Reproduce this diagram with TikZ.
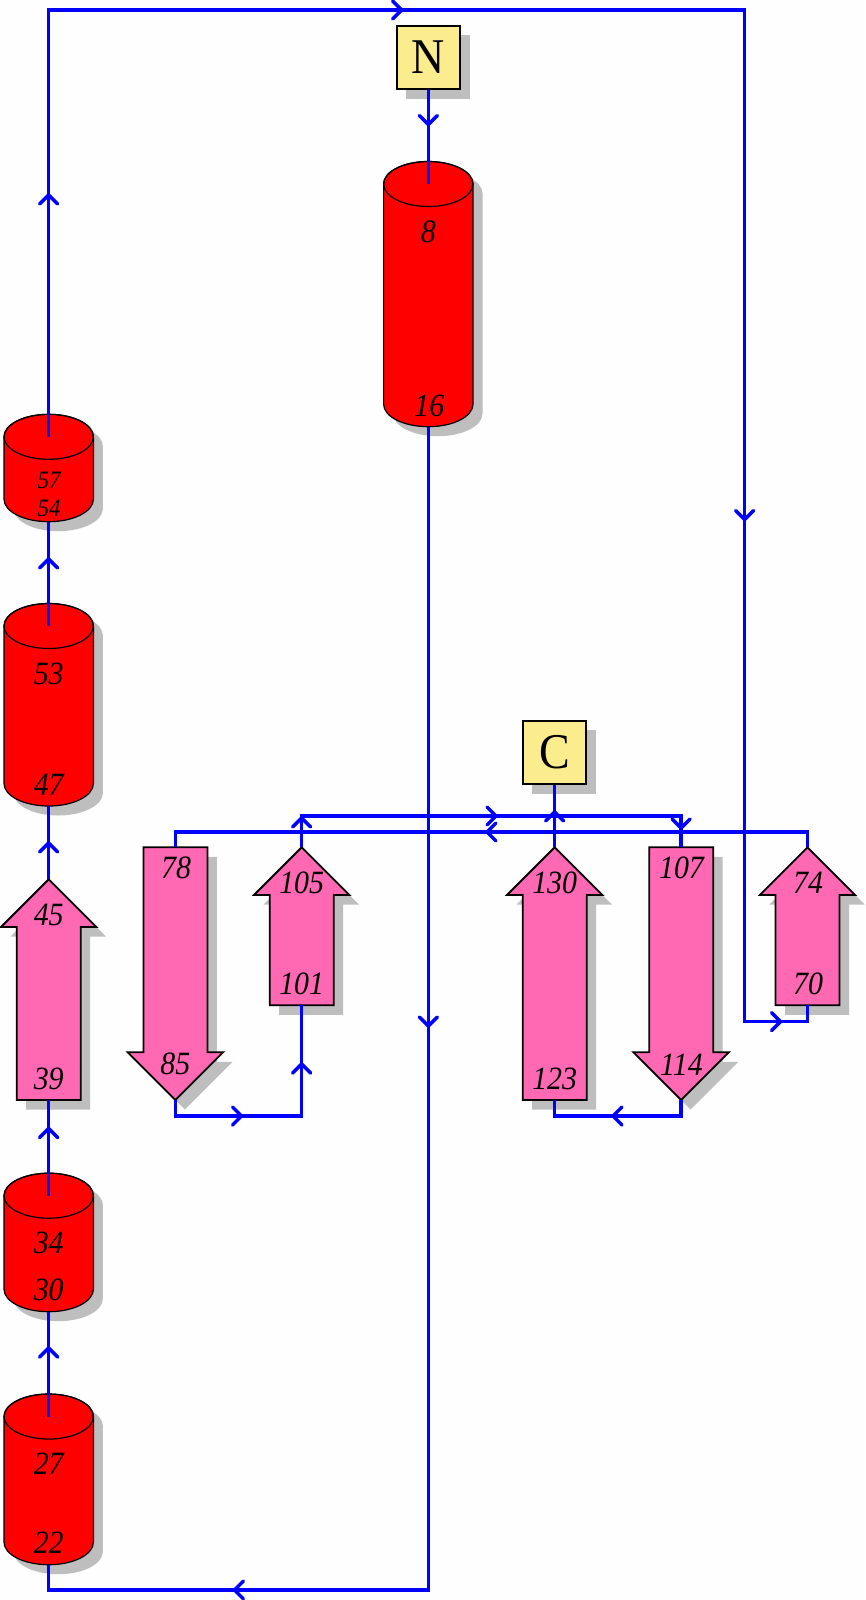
\documentclass[tikz,border=0pt]{standalone}
\usepackage{fontspec}
\setmainfont[FakeStretch=0.92]{Liberation Serif}
\definecolor{shad}{HTML}{BEBEBE}
\definecolor{bgc}{HTML}{FDFEFD}
\definecolor{pinkf}{HTML}{FF69B4}
\definecolor{boxf}{HTML}{FBEC8E}
\definecolor{wire}{HTML}{0000FF}
\tikzset{
  conn/.style={draw=wire,line width=3.5pt,line join=miter},
  tip/.style={draw=wire,line width=3.5pt,line join=miter,line cap=round},
  lab/.style={inner sep=0pt,font=\fontsize{32.5}{32.5}\selectfont\itshape},
  smalllab/.style={inner sep=0pt,font=\fontsize{25}{25}\selectfont\itshape},
  term/.style={draw=black,line width=1.8pt,fill=boxf,minimum width=63pt,minimum height=63pt,inner sep=0pt,font=\fontsize{50}{50}\selectfont},
  outl/.style={draw=black,line width=1.8pt,line join=miter},
  hel/.style={draw=black,line width=1.2pt},
}
% helix: name, x, top ellipse centre y, bottom ellipse centre y
\newcommand{\helixshape}[4]{%
  \fill[shad] ({#2-44.7+9.5},{#3+9.5}) -- ({#2-44.7+9.5},{#4+9.5}) arc[start angle=180,end angle=360,x radius=44.7,y radius=-22.5] -- ({#2+44.7+9.5},{#3+9.5}) arc[start angle=0,end angle=180,x radius=44.7,y radius=-22.5] -- cycle;
  \filldraw[hel,fill=red] ({#2-44.7},#3) -- ({#2-44.7},#4) arc[start angle=180,end angle=360,x radius=44.7,y radius=-22.5] -- ({#2+44.7},#3) arc[start angle=0,end angle=180,x radius=44.7,y radius=-22.5] -- cycle;
  \draw[hel] ({#2},#3) ellipse[x radius=44.7,y radius=22.5];
  \coordinate (#1top) at (#2,#3);
  \coordinate (#1bot) at (#2,{#4+22.5});
}
% up strand: name, x, tip y, bottom y
\newcommand{\upstrand}[4]{%
  \foreach \dd/\cc in {9.5/shad,0/pinkf}{%
    \fill[\cc] ({#2+\dd},{#3+\dd}) -- ({#2+47.7+\dd},{#3+47.7+\dd}) -- ({#2+32+\dd},{#3+47.7+\dd}) -- ({#2+32+\dd},{#4+\dd}) -- ({#2-32+\dd},{#4+\dd}) -- ({#2-32+\dd},{#3+47.7+\dd}) -- ({#2-47.7+\dd},{#3+47.7+\dd}) -- cycle;
  }
  \draw[outl] (#2,#3) -- ({#2+47.7},{#3+47.7}) -- ({#2+32},{#3+47.7}) -- ({#2+32},#4) -- ({#2-32},#4) -- ({#2-32},{#3+47.7}) -- ({#2-47.7},{#3+47.7}) -- cycle;
  \coordinate (#1tip) at (#2,#3);
  \coordinate (#1end) at (#2,#4);
}
% down strand: name, x, top y, tip y
\newcommand{\downstrand}[4]{%
  \foreach \dd/\cc in {9.5/shad,0/pinkf}{%
    \fill[\cc] ({#2+\dd},{#4+\dd}) -- ({#2+47.7+\dd},{#4-47.7+\dd}) -- ({#2+32+\dd},{#4-47.7+\dd}) -- ({#2+32+\dd},{#3+\dd}) -- ({#2-32+\dd},{#3+\dd}) -- ({#2-32+\dd},{#4-47.7+\dd}) -- ({#2-47.7+\dd},{#4-47.7+\dd}) -- cycle;
  }
  \draw[outl] (#2,#4) -- ({#2+47.7},{#4-47.7}) -- ({#2+32},{#4-47.7}) -- ({#2+32},#3) -- ({#2-32},#3) -- ({#2-32},{#4-47.7}) -- ({#2-47.7},{#4-47.7}) -- cycle;
  \coordinate (#1tip) at (#2,#4);
  \coordinate (#1end) at (#2,#3);
}
% open arrowheads with tip at the given point
\newcommand{\hup}[2]{\draw[tip] ({#1-9},{#2+9}) -- (#1,#2) -- ({#1+9},{#2+9});}
\newcommand{\hdown}[2]{\draw[tip] ({#1-9},{#2-9}) -- (#1,#2) -- ({#1+9},{#2-9});}
\newcommand{\hright}[2]{\draw[tip] ({#1-9},{#2-9}) -- (#1,#2) -- ({#1-9},{#2+9});}
\newcommand{\hleft}[2]{\draw[tip] ({#1+9},{#2-9}) -- (#1,#2) -- ({#1+9},{#2+9});}
\begin{document}
\begin{tikzpicture}[x=1pt,y=-1pt]
\useasboundingbox (0,0) rectangle (865,1600);
\fill[bgc] (0,0) rectangle (865,1600);
% terminus boxes
\fill[shad] (406.2,35.2) rectangle (469.5,98.8);
\fill[shad] (532.2,730.2) rectangle (596.2,793.8);
\node[term] (N) at (428.3,57.5) {N};
\node[term] (C) at (554.7,752.5) {C};
% helices
\helixshape{h8}{428.3}{184}{404.2}
\helixshape{h57}{48.7}{436.8}{499.2}
\helixshape{h53}{48.7}{626}{783.5}
\helixshape{h34}{48.7}{1195.7}{1289.2}
\helixshape{h27}{48.7}{1416.5}{1542.2}
% strands
\upstrand{s45}{48.7}{879.3}{1100}
\downstrand{s78}{175.4}{847.3}{1100}
\upstrand{s105}{301.7}{847.3}{1005.3}
\upstrand{s130}{554.7}{847.3}{1100}
\downstrand{s107}{681.2}{847.3}{1100}
\upstrand{s74}{807.5}{847.3}{1005.3}
% routing points
\coordinate (topL) at (48.7,10);
\coordinate (topR) at (744.6,10);
\coordinate (lowR) at (744.6,1021.7);
\coordinate (low74) at (807.5,1021.7);
\coordinate (bot16) at (428.3,1590);
\coordinate (bot22) at (48.7,1590);
\coordinate (r74) at (807.5,832);
\coordinate (r78) at (175.4,832);
\coordinate (u105) at (301.7,816);
\coordinate (u107) at (681.2,816);
\coordinate (b85) at (175.4,1116);
\coordinate (b101) at (301.7,1116);
\coordinate (b114) at (681.2,1116);
\coordinate (b123) at (554.7,1116);
% connectors
\draw[conn] (N) -- (h8top);
\draw[conn] (h8bot) -- (bot16) -- (bot22) -- (h27bot);
\draw[conn] (h27top) -- (h34bot);
\draw[conn] (h34top) -- (s45end);
\draw[conn] (s45tip) -- (h53bot);
\draw[conn] (h53top) -- (h57bot);
\draw[conn] (h57top) -- (topL) -- (topR) -- (lowR) -- (low74) -- (s74end);
\draw[conn] (s74tip) -- (r74) -- (r78) -- (s78end);
\draw[conn] (s78tip) -- (b85) -- (b101) -- (s105end);
\draw[conn] (s105tip) -- (u105) -- (u107) -- (s107end);
\draw[conn] (s107tip) -- (b114) -- (b123) -- (s130end);
\draw[conn] (s130tip) -- (C);
% arrowheads
\hdown{428.3}{124.5}
\hdown{428.3}{1026}
\hleft{234.5}{1590}
\hup{48.7}{1348}
\hup{48.7}{1128.5}
\hup{48.7}{843}
\hup{48.7}{559}
\hup{48.7}{195}
\hright{401.6}{10}
\hdown{744.6}{519.5}
\hright{780.5}{1021.7}
\hleft{487}{832}
\hright{241.5}{1116}
\hup{301.7}{1064}
\hup{301.7}{818}
\hright{496}{816}
\hdown{681.2}{828}
\hleft{613}{1116}
\hup{554.7}{812}
% labels
\node[lab] (l8) at (428.3,231.7) {8};
\node[lab] (l16) at (429.3,405.7) {16};
\node[smalllab] (l57) at (49,480.7) {57};
\node[smalllab] (l54) at (49,508.3) {54};
\node[lab] (l53) at (48.7,674) {53};
\node[lab] (l47) at (48.7,785) {47};
\node[lab] (l45) at (48.7,915) {45};
\node[lab] (l39) at (48.7,1079) {39};
\node[lab] (l34) at (48.7,1242.7) {34};
\node[lab] (l30) at (48.7,1290) {30};
\node[lab] (l27) at (48.7,1464) {27};
\node[lab] (l22) at (48.7,1543) {22};
\node[lab] (l78) at (176,868.3) {78};
\node[lab] (l85) at (175.4,1064.3) {85};
\node[lab] (l105) at (301.7,883) {105};
\node[lab] (l101) at (301.7,984.3) {101};
\node[lab] (l130) at (554.7,883) {130};
\node[lab] (l123) at (554.7,1079) {123};
\node[lab] (l107) at (681.5,868.3) {107};
\node[lab] (l114) at (681.5,1065) {114};
\node[lab] (l74) at (808,883) {74};
\node[lab] (l70) at (808,984.3) {70};
\end{tikzpicture}
\end{document}
